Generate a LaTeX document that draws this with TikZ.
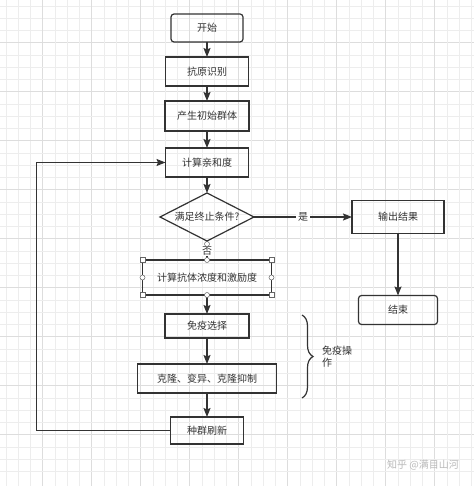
\documentclass[tikz,border=0pt]{standalone}
\usepackage{fontspec}
\setmainfont{Noto Sans CJK SC}
\usetikzlibrary{positioning,arrows.meta,shapes.geometric,decorations.pathreplacing}
\definecolor{ink}{HTML}{333333}
\definecolor{gridminor}{HTML}{EDEDED}
\definecolor{gridmajor}{HTML}{DDDDDD}

\begin{document}
\begin{tikzpicture}[
    x=1pt, y=-1pt,
    node distance=15pt,
    >={Stealth[length=9pt,width=7pt,inset=1.5pt]},
    every node/.style={font=\fontsize{10}{12}\selectfont, text=ink},
    box/.style={draw=ink, line width=1.2pt, rectangle, minimum width=84pt, minimum height=29pt, inner sep=2pt, outer sep=0pt},
    startstop/.style={box, rounded corners=3pt},
    decision/.style={draw=ink, line width=1.2pt, diamond, minimum width=94pt, minimum height=48pt, inner sep=0pt, outer sep=0pt},
    line/.style={draw=ink, line width=1.2pt},
    handlebox/.style={draw=gray!80!black, fill=white, rectangle, minimum size=5pt, inner sep=0pt, line width=0.5pt},
    handledot/.style={handlebox, circle}
  ]
    \useasboundingbox (0,0) rectangle (474,486);
    \fill[white] (0,0) rectangle (474,486);
    % Background grid
    \foreach \i in {0,...,38} {
      \pgfmathtruncatemacro{\major}{mod(\i,4)==3}
      \ifnum\major=1 \def\gc{gridmajor}\else\def\gc{gridminor}\fi
      \draw[\gc, line width=0.6pt] ({6+12.25*\i},0) -- ({6+12.25*\i},486);
      \draw[\gc, line width=0.6pt] (0,{6+12.25*\i}) -- (474,{6+12.25*\i});
    }
    % Main flow
    \node[startstop, minimum width=72pt, minimum height=28pt] (start) at (207,28) {开始};
    \node[box, minimum width=83pt] (antigen) [below=15pt of start] {抗原识别};
    \node[box, minimum height=30pt] (initpop) [below=15pt of antigen] {产生初始群体};
    \node[box, minimum width=83pt] (affinity) [below=17pt of initpop] {计算亲和度};
    \node[decision] (check) [below=16pt of affinity] {\makebox[0pt]{满足终止条件?}};
    \node[box, minimum width=129pt, minimum height=35pt] (density) [below=19pt of check] {计算抗体浓度和激励度};
    \node[box, minimum height=24pt] (select) [below=19pt of density] {免疫选择};
    \node[box, minimum width=139pt] (clone) [below=26pt of select] {克隆、变异、克隆抑制};
    \node[box, minimum width=73pt, minimum height=27pt] (refresh) [below=24pt of clone] {种群刷新};
    % Output branch
    \node[box, minimum width=92pt, minimum height=33pt] (output) [right=98pt of check] {输出结果};
    \node[startstop, minimum width=79pt] (finish) [below=62pt of output] {结束};
    % Arrows
    \draw[line,->] (start) -- (antigen);
    \draw[line,->] (antigen) -- (initpop);
    \draw[line,->] (initpop) -- (affinity);
    \draw[line,->] (affinity) -- (check);
    \draw[line] (check) -- node[fill=white, inner sep=1pt] (no) {否} (density);
    \draw[line,->] (density) -- (select);
    \draw[line,->] (select) -- (clone);
    \draw[line,->] (clone) -- (refresh);
    \draw[line,->] (refresh.west) -- ++(-134,0) |- (affinity.west);
    \draw[line,->] (check) -- node[fill=white, inner sep=2pt] (yes) {是} (output);
    \draw[line,->] (output) -- (finish);
    % Selection handles
    \node[handledot] at ([yshift=-3pt]check.south) {};
    \foreach \a in {north west,north east,south west,south east}
      \node[handlebox] at (density.\a) {};
    \foreach \a in {north,south,west,east}
      \node[handledot] at (density.\a) {};
    % Brace with label
    \draw[ink, line width=1.2pt, decorate, decoration={brace, amplitude=11pt}] (302,315) -- (302,398);
    \node[align=left, inner sep=0pt] (ops) at (337,357) {免疫操\\作};
    % Watermark
    \node[text=gray!55, font=\fontsize{10}{12}\selectfont] (mark) at (423,465) {知乎 @满目山河};
\end{tikzpicture}
\end{document}
